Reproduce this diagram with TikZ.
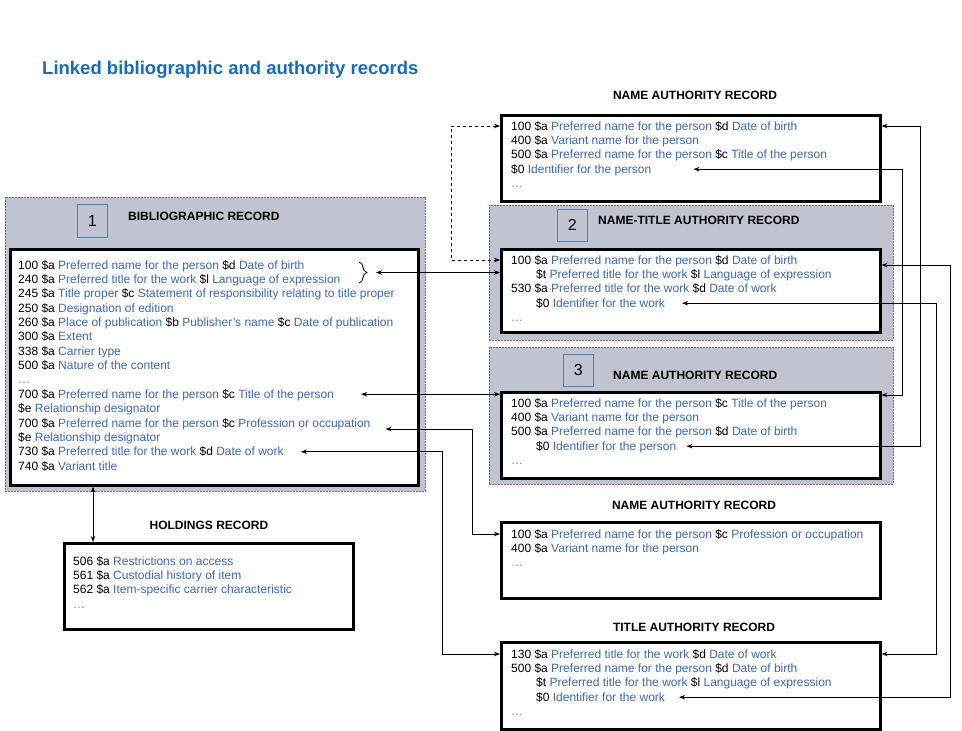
\documentclass[tikz,border=0pt]{standalone}
\usepackage{fontspec}
\setmainfont{Liberation Sans}
\usetikzlibrary{arrows.meta,decorations.pathreplacing}
\definecolor{valblue}{RGB}{62,104,176}
\definecolor{titleblue}{RGB}{22,108,184}
\definecolor{panelgray}{RGB}{192,195,208}
\definecolor{panelred}{RGB}{168,84,84}
\definecolor{numblue}{RGB}{70,130,200}
\newcommand{\fieldval}[1]{\textcolor{valblue}{#1}}
\newcommand{\moredots}{\textcolor{gray}{\ldots}}
\begin{document}
\begin{tikzpicture}[
  x=1pt,y=-1pt,
  panelbox/.style={draw=panelred,dash pattern=on 2pt off 1pt,line width=0.5pt,fill=panelgray,anchor=north west,inner sep=0pt},
  recordbox/.style={draw,line width=2.6pt,fill=white,anchor=north west,inner sep=0pt},
  numbox/.style={draw=numblue,line width=0.8pt,anchor=north west,inner sep=0pt,font=\fontsize{16}{16}\selectfont},
  heading/.style={inner sep=0pt,font=\bfseries\fontsize{12}{14}\selectfont},
  fieldline/.style={anchor=base west,inner sep=0pt,text height=8pt,text depth=0pt,font=\fontsize{12}{14}\selectfont},
  link/.style={<->,>={Stealth[length=6pt,width=4.5pt]},line width=0.8pt}
]
  \path[use as bounding box] (0,0) rectangle (962,731);

  \node[anchor=west,inner sep=0pt,text=titleblue,font=\bfseries\fontsize{18.5}{22}\selectfont] (title) at (42,70)
    {Linked bibliographic and authority records};

  \node[panelbox,minimum width=420pt,minimum height=294pt] (bibpanel) at (5,197) {};
  \node[numbox,minimum width=30pt,minimum height=33pt] (num1) at (77,204) {1};
  \node[heading,anchor=west] (bibhead) at (128,216) {BIBLIOGRAPHIC RECORD};
  \node[recordbox,minimum width=408pt,minimum height=236pt] (bib) at (9,248) {};
  \node[fieldline] (bib-1) at (18,269) {100 \$a \fieldval{Preferred name for the person} \$d \fieldval{Date of birth}};
  \node[fieldline] (bib-2) at (18,283.4) {240 \$a \fieldval{Preferred title for the work} \$l \fieldval{Language of expression}};
  \node[fieldline] (bib-3) at (18,297.7) {245 \$a \fieldval{Title proper} \$c \fieldval{Statement of responsibility relating to title proper}};
  \node[fieldline] (bib-4) at (18,312.1) {250 \$a \fieldval{Designation of edition}};
  \node[fieldline] (bib-5) at (18,326.4) {260 \$a \fieldval{Place of publication} \$b \fieldval{Publisher's name} \$c \fieldval{Date of publication}};
  \node[fieldline] (bib-6) at (18,340.8) {300 \$a \fieldval{Extent}};
  \node[fieldline] (bib-7) at (18,355.2) {338 \$a \fieldval{Carrier type}};
  \node[fieldline] (bib-8) at (18,369.5) {500 \$a \fieldval{Nature of the content}};
  \node[fieldline] (bib-9) at (18,383.9) {\moredots};
  \node[fieldline] (bib-10) at (18,398.2) {700 \$a \fieldval{Preferred name for the person} \$c \fieldval{Title of the person}};
  \node[fieldline] (bib-11) at (18,412.6) {\$e \fieldval{Relationship designator}};
  \node[fieldline] (bib-12) at (18,427) {700 \$a \fieldval{Preferred name for the person} \$c \fieldval{Profession or occupation}};
  \node[fieldline] (bib-13) at (18,441.3) {\$e \fieldval{Relationship designator}};
  \node[fieldline] (bib-14) at (18,455.7) {730 \$a \fieldval{Preferred title for the work} \$d \fieldval{Date of work}};
  \node[fieldline] (bib-15) at (18,470) {740 \$a \fieldval{Variant title}};
  \draw[decorate,decoration={brace,amplitude=8pt},line width=0.8pt] (359,262) -- (359,283);
  \coordinate (bracetip) at (368,272.5);

  \node[heading] (holdhead) at (209,525) {HOLDINGS RECORD};
  \node[recordbox,minimum width=289pt,minimum height=86pt] (hold) at (63,542) {};
  \node[fieldline] (hold-1) at (73,565) {506 \$a \fieldval{Restrictions on access}};
  \node[fieldline] (hold-2) at (73,579.4) {561 \$a \fieldval{Custodial history of item}};
  \node[fieldline] (hold-3) at (73,593.8) {562 \$a \fieldval{Item-specific carrier characteristic}};
  \node[fieldline] (hold-4) at (73,608.2) {\moredots};

  \node[heading] (narhead) at (695,95) {NAME AUTHORITY RECORD};
  \node[recordbox,minimum width=379pt,minimum height=86pt] (nar) at (500,114) {};
  \node[fieldline] (nar-1) at (511,130) {100 \$a \fieldval{Preferred name for the person} \$d \fieldval{Date of birth}};
  \node[fieldline] (nar-2) at (511,144.4) {400 \$a \fieldval{Variant name for the person}};
  \node[fieldline] (nar-3) at (511,158.8) {500 \$a \fieldval{Preferred name for the person} \$c \fieldval{Title of the person}};
  \node[fieldline] (nar-4) at (511,173.2) {\$0 \fieldval{Identifier for the person}};
  \node[fieldline] (nar-5) at (511,187.6) {\moredots};

  \node[panelbox,minimum width=404pt,minimum height=135pt] (ntpanel) at (489,205) {};
  \node[numbox,minimum width=30pt,minimum height=32pt] (num2) at (557,209) {2};
  \node[heading,anchor=west] (nthead) at (598,220) {NAME-TITLE AUTHORITY RECORD};
  \node[recordbox,minimum width=379pt,minimum height=83pt] (nt) at (500,248) {};
  \node[fieldline] (nt-1) at (511,264) {100 \$a \fieldval{Preferred name for the person} \$d \fieldval{Date of birth}};
  \node[fieldline] (nt-2) at (536,278.4) {\$t \fieldval{Preferred title for the work} \$l \fieldval{Language of expression}};
  \node[fieldline] (nt-3) at (511,292.8) {530 \$a \fieldval{Preferred title for the work} \$d \fieldval{Date of work}};
  \node[fieldline] (nt-4) at (536,307.2) {\$0 \fieldval{Identifier for the work}};
  \node[fieldline] (nt-5) at (511,321.6) {\moredots};

  \node[panelbox,minimum width=404pt,minimum height=137pt] (napanel) at (489,347) {};
  \node[numbox,minimum width=30pt,minimum height=32pt] (num3) at (563,354) {3};
  \node[heading,anchor=west] (nahead) at (613,375) {NAME AUTHORITY RECORD};
  \node[recordbox,minimum width=379pt,minimum height=86pt] (na) at (500,391) {};
  \node[fieldline] (na-1) at (511,407) {100 \$a \fieldval{Preferred name for the person} \$c \fieldval{Title of the person}};
  \node[fieldline] (na-2) at (511,421.4) {400 \$a \fieldval{Variant name for the person}};
  \node[fieldline] (na-3) at (511,435.8) {500 \$a \fieldval{Preferred name for the person} \$d \fieldval{Date of birth}};
  \node[fieldline] (na-4) at (536,450.2) {\$0 \fieldval{Identifier for the person}};
  \node[fieldline] (na-5) at (511,464.6) {\moredots};

  \node[heading] (prohead) at (694,505) {NAME AUTHORITY RECORD};
  \node[recordbox,minimum width=379pt,minimum height=76pt] (pro) at (500,521) {};
  \node[fieldline] (pro-1) at (511,538) {100 \$a \fieldval{Preferred name for the person} \$c \fieldval{Profession or occupation}};
  \node[fieldline] (pro-2) at (511,552.4) {400 \$a \fieldval{Variant name for the person}};
  \node[fieldline] (pro-3) at (511,566.8) {\moredots};

  \node[heading] (tahead) at (694,627) {TITLE AUTHORITY RECORD};
  \node[recordbox,minimum width=379pt,minimum height=87pt] (ta) at (500,641) {};
  \node[fieldline] (ta-1) at (511,658) {130 \$a \fieldval{Preferred title for the work} \$d \fieldval{Date of work}};
  \node[fieldline] (ta-2) at (511,672.4) {500 \$a \fieldval{Preferred name for the person} \$d \fieldval{Date of birth}};
  \node[fieldline] (ta-3) at (536,686.8) {\$t \fieldval{Preferred title for the work} \$l \fieldval{Language of expression}};
  \node[fieldline] (ta-4) at (536,701.2) {\$0 \fieldval{Identifier for the work}};
  \node[fieldline] (ta-5) at (511,715.6) {\moredots};

  \draw[link,dashed] (nar.west |- nar-1) -- ++(-49,0) |- (nt.west |- nt-1);
  \draw[link] ([xshift=8pt]bracetip) -- (bracetip -| nt.west);
  \draw[link] ([xshift=27pt]bib-10.east) -- (bib-10.east -| na.west);
  \draw[link] ([xshift=15pt,yshift=-6pt]bib-12.east) -- ++(87,0) |- (pro.west |- pro-1);
  \draw[link] ([xshift=17pt]bib-14.east) -- ++(142,0) |- (ta.west |- ta-1);
  \draw[link] ([xshift=84pt]bib.south west) -- ([xshift=30pt]hold.north west);

  \draw[link] (nar.east |- nar-1) -- ++(39,0) |- ([xshift=10pt]na-4.east);
  \draw[link] ([yshift=-4pt]na.north east) -- ++(21,0) |- ([xshift=42pt]nar-4.east);
  \draw[link] ([yshift=-17pt]nt.north east) -- ++(69,0) |- ([xshift=14pt]ta-4.east);
  \draw[link] (ta.east |- ta-1) -- ++(55,0) |- ([xshift=17pt]nt-4.east);
\end{tikzpicture}
\end{document}
